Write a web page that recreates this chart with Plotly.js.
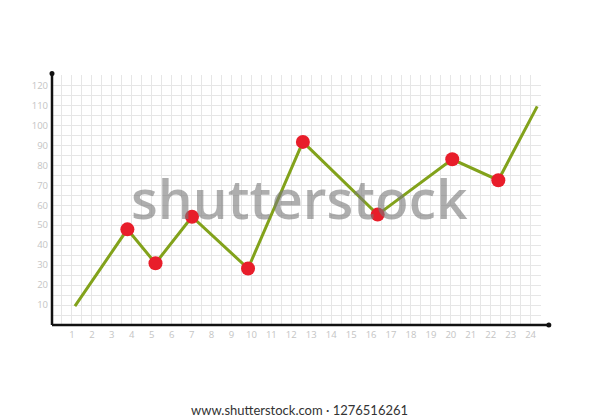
<!DOCTYPE html>
<html>
<head>
<meta charset="utf-8">
<script src="https://cdn.plot.ly/plotly-3.0.1.min.js"></script>
<style>html,body{margin:0;padding:0;background:#fff;}#chart{width:600px;height:420px;}</style>
</head>
<body>
<div id="chart"></div>
<script>
// Data
var lineX = [1.15, 3.78, 5.19, 7.02, 9.83, 12.58, 16.33, 20.07, 22.38, 24.33];
var lineY = [9.5, 47.9, 30.9, 54.2, 28.3, 91.7, 55.3, 83.0, 72.5, 109.5];
var xTickVals = [1,2,3,4,5,6,7,8,9,10,11,12,13,14,15,16,17,18,19,20,21,22,23,24];
var yTickVals = [10,20,30,40,50,60,70,80,90,100,110,120];
var footerText = "www.shutterstock.com · 1276516261";
var watermarkText = "shutterstock";

var markX = lineX.slice(1, lineX.length - 1);
var markY = lineY.slice(1, lineY.length - 1);

var traces = [
  {x: lineX, y: lineY, type: 'scatter', mode: 'lines',
   line: {color: '#82a21b', width: 3}, hoverinfo: 'skip'},
  {x: markX, y: markY, type: 'scatter', mode: 'markers',
   marker: {color: '#e81d2a', size: 14, line: {width: 0}}, hoverinfo: 'skip'}
];

var gridColor = '#e6e6e6';
var tickFont = {family: 'Open Sans, sans-serif', size: 9.5, color: '#c4c4c4'};

var layout = {
  width: 600, height: 420,
  margin: {l: 52, r: 59, t: 75, b: 95},
  paper_bgcolor: '#ffffff', plot_bgcolor: '#ffffff',
  showlegend: false,
  xaxis: {
    range: [0, 24.52], tickmode: 'array', tickvals: xTickVals,
    ticks: '', showline: false, zeroline: false,
    showgrid: true, gridcolor: gridColor, gridwidth: 1,
    minor: {tickmode: 'linear', tick0: 0, dtick: 0.5, showgrid: true, gridcolor: gridColor, gridwidth: 1},
    tickfont: tickFont, ticklabelstandoff: 2, fixedrange: true
  },
  yaxis: {
    range: [0, 125.2], tickmode: 'array', tickvals: yTickVals,
    ticks: '', showline: false, zeroline: false,
    showgrid: true, gridcolor: gridColor, gridwidth: 1,
    minor: {tickmode: 'linear', tick0: 0, dtick: 5, showgrid: true, gridcolor: gridColor, gridwidth: 1},
    tickfont: tickFont, ticklabelstandoff: 3, fixedrange: true
  },
  shapes: [
    {type: 'line', xref: 'paper', yref: 'paper', x0: 0, x1: 1.016, y0: 0, y1: 0,
     line: {color: '#111111', width: 2.5}, layer: 'above'},
    {type: 'line', xref: 'paper', yref: 'paper', x0: 0, x1: 0, y0: 0, y1: 1.006,
     line: {color: '#111111', width: 2.5}, layer: 'above'},
    {type: 'circle', xref: 'paper', yref: 'paper', xsizemode: 'pixel', ysizemode: 'pixel',
     xanchor: 1.016, yanchor: 0, x0: -2.5, x1: 2.5, y0: -2.5, y1: 2.5,
     fillcolor: '#111111', line: {width: 0}, layer: 'above'},
    {type: 'circle', xref: 'paper', yref: 'paper', xsizemode: 'pixel', ysizemode: 'pixel',
     xanchor: 0, yanchor: 1.006, x0: -2.5, x1: 2.5, y0: -2.5, y1: 2.5,
     fillcolor: '#111111', line: {width: 0}, layer: 'above'}
  ],
  annotations: [
    {text: watermarkText, xref: 'paper', yref: 'paper', x: 0.507, y: 0.51,
     xanchor: 'center', yanchor: 'middle', showarrow: false,
     font: {family: 'Open Sans, sans-serif', size: 55, color: 'rgba(120,120,120,0.6)', weight: 600}},
    {text: footerText, xref: 'paper', yref: 'paper', x: 0.507, y: -0.34,
     xanchor: 'center', yanchor: 'middle', showarrow: false,
     font: {family: 'Lato, sans-serif', size: 13, color: '#333333'}}
  ]
};

Plotly.newPlot('chart', traces, layout, {staticPlot: true, displayModeBar: false});
</script>
</body>
</html>
